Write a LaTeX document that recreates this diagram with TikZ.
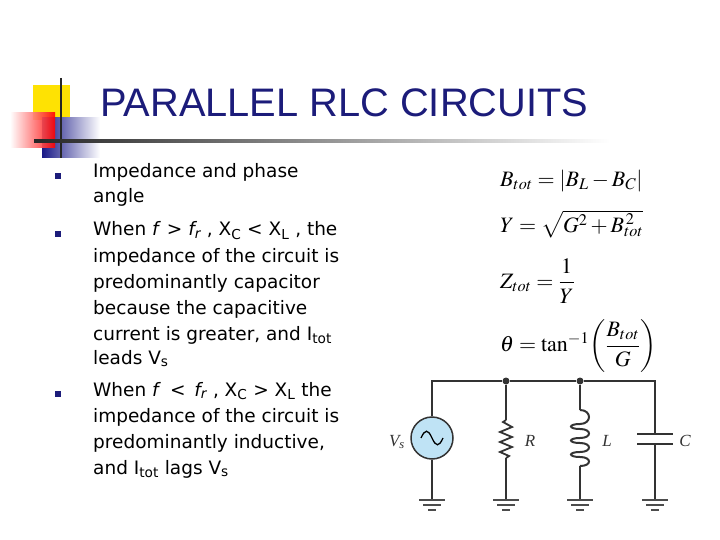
\documentclass[tikz,border=0pt]{standalone}
\usepackage{amsmath}
\usepackage{mathptmx}
\usepackage[no-math]{fontspec}
\setmainfont{DejaVu Sans}
\newfontfamily\titlefont{Liberation Sans}
\newfontfamily\serif{Liberation Serif}
\definecolor{navy}{HTML}{1C1C7A}
\definecolor{srcblue}{HTML}{BFE3F5}
\tikzset{
 body/.style={anchor=base west,inner sep=0pt,font=\fontsize{18.5}{22}\selectfont},
 bul/.style={fill=navy,minimum size=6pt,inner sep=0pt},
 eq/.style={anchor=west,inner sep=0pt,font=\fontsize{22}{26}\selectfont},
 wire/.style={line width=1.3pt,black!80},
 dot/.style={circle,fill=black!80,minimum size=7pt,inner sep=0pt},
 lab/.style={font=\fontsize{17}{19}\selectfont\serif\itshape,inner sep=0pt,text=black!80}
}
\newcommand{\mygnd}[1]{%
 \draw[line width=2pt,black!70] ([xshift=-13pt]#1) -- ([xshift=13pt]#1);
 \draw[line width=2pt,black!70] ([xshift=-9pt,yshift=-5pt]#1) -- ([xshift=9pt,yshift=-5pt]#1);
 \draw[line width=2pt,black!70] ([xshift=-4pt,yshift=-10pt]#1) -- ([xshift=4pt,yshift=-10pt]#1);}
\begin{document}
\begin{tikzpicture}[x=1pt,y=-1pt]
\useasboundingbox (0,0) rectangle (720,540);
% logo
\fill[yellow!85!orange] (33,85) rectangle (70,120);
\shade[left color=navy!90!blue, right color=white] (42,118) rectangle (100,158);
\shade[left color=white, right color=red, opacity=0.9] (10,113) rectangle (55,148);
\draw[line width=1.4pt,black!85] (61,78) -- (61,158);
\shade[left color=black!85,right color=white] (34,140) rectangle (610,142.5);
\node[anchor=base west,inner sep=0pt,text=navy] (title) at (100,117)
 {\resizebox{488pt}{!}{\titlefont\fontsize{40}{44}\selectfont PARALLEL RLC CIRCUITS}};
% bullets
\node[bul] (b1) at (58,176) {};
\node[bul] (b2) at (58,234) {};
\node[bul] (b3) at (58,394) {};
% body
\node[body] (t1) at (93,178) {Impedance and phase};
\node[body] (t2) at (93,203) {angle};
\node[body] (t3) at (93,236) {When \textit{f} > \textit{f\textsubscript{r}} , X\textsubscript{C} < X\textsubscript{L} , the};
\node[body] (t4) at (93,262) {impedance of the circuit is};
\node[body] (t5) at (93,288) {predominantly capacitor};
\node[body] (t6) at (93,314) {because the capacitive};
\node[body] (t7) at (93,340) {current is greater, and I\textsubscript{tot}};
\node[body] (t8) at (93,364) {leads V\textsubscript{s}};
\node[body] (t9) at (93,396) {When \textit{f}\, <\, \textit{f\textsubscript{r}} , X\textsubscript{C} > X\textsubscript{L} the};
\node[body] (t10) at (93,422) {impedance of the circuit is};
\node[body] (t11) at (93,448) {predominantly inductive,};
\node[body] (t12) at (93,474) {and I\textsubscript{tot} lags V\textsubscript{s}};
% equations
\node[eq] (e1) at (500,181) {$B_{tot}=\left|B_L-B_C\right|$};
\node[eq] (e2) at (500,224) {$Y=\sqrt{G^2+B_{tot}^{\,2}}$};
\node[eq] (e3) at (500,281) {$Z_{tot}=\dfrac{1}{Y}$};
\node[eq] (e4) at (500,346) {$\theta=\tan^{-1}\!\left(\dfrac{B_{tot}}{G}\right)$};
% circuit
\coordinate (tl) at (432,381);
\node[dot] (dR) at (506,381) {};
\node[dot] (dL) at (580,381) {};
\coordinate (tr) at (655,381);
\node[circle,draw=black!80,line width=1.5pt,fill=srcblue,minimum size=42pt,inner sep=0pt] (vs) at (432,438) {};
\draw[line width=1.3pt] ([xshift=-11pt]vs.center) .. controls +(4,-9) and +(-4,-9) .. (vs.center) .. controls +(4,9) and +(-4,9) .. ([xshift=11pt]vs.center);
\coordinate (rt) at (506,420); \coordinate (rb) at (506,458);
\coordinate (lt) at (580,410); \coordinate (lb) at (580,466);
\coordinate (ct) at (655,434); \coordinate (cb) at (655,444);
\coordinate (g1) at (432,500); \coordinate (g2) at (506,500);
\coordinate (g3) at (580,500); \coordinate (g4) at (655,500);
\draw[wire] (vs.north) -- (tl) -- (dR) -- (dL) -- (tr) -- (ct);
\draw[wire] (vs.south) -- (g1);
\draw[wire] (dR) -- (rt);
\draw[wire,line width=1.8pt] (rt) -- (503,422) -- (512,427) -- (500,432) -- (512,437) -- (500,442) -- (512,447) -- (500,452) -- (509,456) -- (rb);
\draw[wire] (rb) -- (g2);
\draw[wire] (dL) -- (lt);
\draw[wire,line width=2pt] (lt) .. controls (592,410) and (592,424) .. (580,424)
 .. controls (568,424) and (568,429) .. (580,429) .. controls (592,429) and (592,438) .. (580,438)
 .. controls (568,438) and (568,443) .. (580,443) .. controls (592,443) and (592,452) .. (580,452)
 .. controls (568,452) and (568,457) .. (580,457) .. controls (592,457) and (592,466) .. (lb);
\draw[wire] (lb) -- (g3);
\draw[line width=2.5pt,black!80] (637,434) -- (673,434);
\draw[line width=2.5pt,black!80] (637,444) -- (673,444);
\draw[wire] (cb) -- (g4);
\mygnd{g1}\mygnd{g2}\mygnd{g3}\mygnd{g4}
\node[lab] (lvs) at (397,442) {V\textsubscript{s}};
\node[lab] (lr) at (530,441) {R};
\node[lab] (ll) at (607,441) {L};
\node[lab] (lc) at (685,441) {C};
\end{tikzpicture}
\end{document}
